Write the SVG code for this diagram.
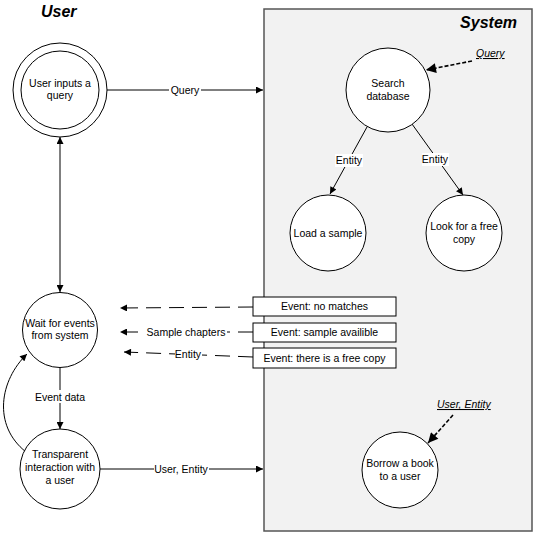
<svg xmlns="http://www.w3.org/2000/svg" width="536" height="534" viewBox="0 0 536 534">
<style>
text{font-family:"Liberation Sans",Arial,sans-serif;font-size:10.5px;fill:#000}
.c{text-anchor:middle}
.node{fill:#fff;stroke:#000;stroke-width:1}
.ln{fill:none;stroke:#000;stroke-width:1}
.dash{fill:none;stroke:#000;stroke-width:1;stroke-dasharray:15 8}
.dot{fill:none;stroke:#000;stroke-width:1.6;stroke-dasharray:4 2}
.title{font-size:16px;font-weight:bold;font-style:italic}
.ul{font-style:italic;text-decoration:underline}
.bg{fill:#fff}
</style>
<defs>
<marker id="ah" viewBox="0 0 10 10" refX="10" refY="5" markerWidth="8" markerHeight="7" markerUnits="userSpaceOnUse" orient="auto-start-reverse">
<path d="M0,0 L10,5 L0,10 z" fill="#000"/>
</marker>
<marker id="ahb" viewBox="0 0 10 10" refX="10" refY="5" markerWidth="11" markerHeight="10" markerUnits="userSpaceOnUse" orient="auto">
<path d="M0,0 L10,5 L0,10 z" fill="#000"/>
</marker>
</defs>
<rect width="536" height="534" fill="#fff"/>
<g id="system-area">
<rect x="264" y="9" width="268" height="522" fill="#f2f2f2" stroke="#555" stroke-width="1.5"/>
<text x="517" y="28" class="title" text-anchor="end">System</text>
</g>
<text id="user-title" x="41" y="17" class="title">User</text>

<g id="connectors">
<line class="ln" x1="107" y1="90" x2="263" y2="90" marker-end="url(#ah)"/>
<line class="ln" x1="60" y1="137" x2="60" y2="292" marker-start="url(#ah)" marker-end="url(#ah)"/>
<line class="ln" x1="60" y1="367" x2="60" y2="429" marker-end="url(#ah)"/>
<path class="ln" d="M26 452 C-8 425 0 380 27 354" marker-end="url(#ah)"/>
<line class="ln" x1="100" y1="469" x2="263" y2="469" marker-end="url(#ah)"/>
<line class="ln" x1="367" y1="127" x2="330" y2="194" marker-end="url(#ah)"/>
<line class="ln" x1="412" y1="124" x2="463" y2="195" marker-end="url(#ah)"/>
<line class="dot" x1="472" y1="61" x2="426" y2="70" marker-end="url(#ahb)"/>
<line class="dot" x1="453" y1="415" x2="428" y2="443" marker-end="url(#ahb)"/>
<line class="dash" x1="253" y1="307" x2="120" y2="308" marker-end="url(#ah)"/>
<line class="dash" x1="253" y1="332" x2="120" y2="332" marker-end="url(#ah)"/>
<line class="dash" x1="253" y1="357" x2="124" y2="352" marker-end="url(#ah)"/>
<rect class="bg" x="169" y="84" width="32" height="12"/>
<text x="185" y="94" class="c">Query</text>
<rect class="bg" x="154" y="463" width="55" height="12"/>
<text x="181" y="473" class="c">User, Entity</text>
<rect class="bg" x="335" y="154" width="28" height="13"/>
<text x="349" y="164" class="c">Entity</text>
<rect class="bg" x="422" y="153" width="27" height="13"/>
<text x="435" y="163" class="c">Entity</text>
<rect class="bg" x="32" y="390" width="56" height="13"/>
<text x="60" y="401" class="c">Event data</text>
<rect class="bg" x="146" y="326" width="81" height="12"/>
<text x="186" y="336" class="c">Sample chapters</text>
<rect class="bg" x="175" y="348" width="27" height="12"/>
<text x="188" y="358" class="c">Entity</text>
<text x="476" y="57" class="ul">Query</text>
<text x="437" y="408" class="ul">User, Entity</text>
</g>

<g id="n-user-inputs">
<circle class="node" cx="60" cy="90" r="47"/>
<circle class="node" cx="60" cy="90" r="39"/>
<text x="60" y="87" class="c">User inputs a</text>
<text x="60" y="99" class="c">query</text>
</g>
<g id="n-wait">
<circle class="node" cx="60" cy="330" r="37.5"/>
<text x="60" y="327" class="c">Wait for events</text>
<text x="60" y="339" class="c">from system</text>
</g>
<g id="n-transparent">
<circle class="node" cx="60" cy="469" r="40"/>
<text x="60" y="458" class="c">Transparent</text>
<text x="60" y="471" class="c">interaction with</text>
<text x="60" y="484" class="c">a user</text>
</g>
<g id="n-search">
<circle class="node" cx="388" cy="90" r="42"/>
<text x="388" y="87" class="c">Search</text>
<text x="388" y="100" class="c">database</text>
</g>
<g id="n-load">
<circle class="node" cx="328" cy="233" r="38"/>
<text x="328" y="237" class="c">Load a sample</text>
</g>
<g id="n-look">
<circle class="node" cx="464" cy="233" r="38"/>
<text x="464" y="230" class="c">Look for a free</text>
<text x="464" y="243" class="c">copy</text>
</g>
<g id="n-borrow">
<circle class="node" cx="400" cy="470" r="38"/>
<text x="400" y="467" class="c">Borrow a book</text>
<text x="400" y="480" class="c">to a user</text>
</g>
<g id="ev-nomatch">
<rect class="node" x="253" y="297" width="143" height="19"/>
<text x="324.5" y="310" class="c">Event: no matches</text>
</g>
<g id="ev-sample">
<rect class="node" x="253" y="323" width="143" height="19"/>
<text x="324.5" y="336" class="c">Event: sample availible</text>
</g>
<g id="ev-free">
<rect class="node" x="253" y="348" width="143" height="20"/>
<text x="324.5" y="362" class="c">Event: there is a free copy</text>
</g>
</svg>
